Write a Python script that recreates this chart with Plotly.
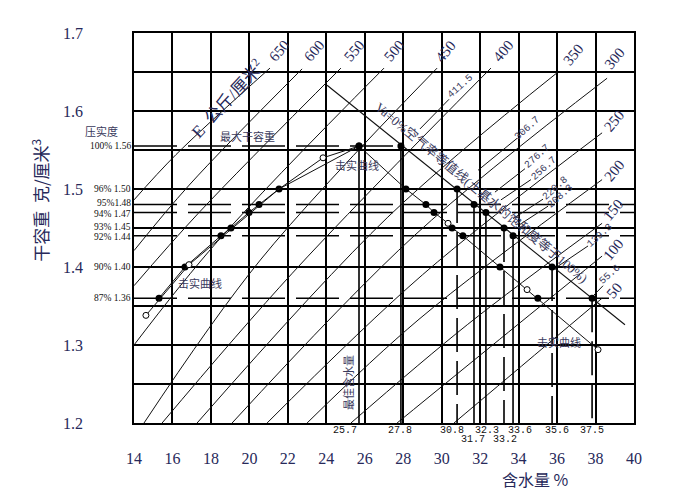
import plotly.graph_objects as go

# ---------------- data ----------------
x_ticks = [14, 16, 18, 20, 22, 24, 26, 28, 30, 32, 34, 36, 38, 40]
y_ticks = [1.20, 1.25, 1.30, 1.35, 1.40, 1.45, 1.50, 1.55, 1.60, 1.65, 1.70]
y_ticktext = ["1.2", " ", "1.3", " ", "1.4", " ", "1.5", " ", "1.6", " ", "1.7"]

# compaction levels (dashed horizontals)
levels = [1.555, 1.50, 1.48, 1.47, 1.45, 1.44, 1.40, 1.36]
level_labels = ["100% 1.56", "96% 1.50", "95%1.48", "94% 1.47",
                "93% 1.45", "92% 1.44", "90% 1.40", "87% 1.36"]
level_label_y = [1.555, 1.50, 1.4815, 1.4685, 1.4515, 1.4385, 1.40, 1.36]
level_end = [27.88, 40, 40, 40, 40, 40, 40, 40]

# E isolines (kg/cm2): start, middle, end points
e_values = ["650", "600", "550", "500", "450", "400", "350",
            "300", "250", "200", "150", "100", "50"]
e_x = [[14.0, 16.18, 21.07], [14.0, 16.87, 22.74], [14.0, 17.35, 24.76],
       [14.0, 18.35, 27.0], [14.52, 20.57, 29.76], [15.46, 22.23, 32.56],
       [17.28, 27.20, 36.0], [19.10, 28.61, 38.60], [20.92, 29.0, 38.34],
       [23.0, 28.82, 38.34], [25.28, 31.33, 38.34], [27.68, 33.0, 38.34],
       [30.64, 34.49, 38.34]]
e_y = [[1.486, 1.544, 1.655], [1.421, 1.505, 1.654], [1.376, 1.469, 1.655],
       [1.300, 1.433, 1.655], [1.200, 1.409, 1.655], [1.200, 1.392, 1.655],
       [1.200, 1.464, 1.649], [1.200, 1.441, 1.642], [1.200, 1.390, 1.572],
       [1.200, 1.333, 1.512], [1.200, 1.326, 1.456], [1.200, 1.307, 1.414],
       [1.200, 1.280, 1.360]]
e_label_x = [21.54, 23.36, 25.44, 27.52, 30.22, 33.19, 36.83,
             39.01, 38.96, 39.01, 38.91, 38.91, 39.01]
e_label_y = [1.677, 1.677, 1.677, 1.677, 1.677, 1.677, 1.672,
             1.668, 1.587, 1.524, 1.473, 1.422, 1.370]

# short partial E isolines through the saturation points
seg_text = ["411.5", "306.7", "276.7", "256.7", "220.8", "208.3", "139.3", "55.6"]
seg_x0 = [28.87, 31.89, 32.77, 33.08, 33.71, 33.97, 36.05, 37.76]
seg_y0 = [1.577, 1.524, 1.496, 1.486, 1.462, 1.453, 1.401, 1.360]
seg_x1 = [30.38, 33.92, 34.33, 34.64, 35.27, 35.53, 37.61, 38.39]
seg_y1 = [1.615, 1.565, 1.526, 1.512, 1.487, 1.478, 1.427, 1.376]
seg_lx = [30.95, 34.44, 34.96, 35.32, 35.89, 36.15, 38.23, 38.75]
seg_ly = [1.632, 1.578, 1.542, 1.526, 1.501, 1.491, 1.440, 1.390]

# saturation line (Va = 0 %)
sat_line_x = [24.04, 39.53]
sat_line_y = [1.633, 1.326]
sat_w = [27.88, 30.80, 31.68, 32.30, 33.24, 33.71, 35.74, 37.82]
sat_d = [1.555, 1.50, 1.48, 1.47, 1.45, 1.44, 1.40, 1.36]

# compaction curves
dry_fill_w = [15.30, 16.65, 18.52, 19.04, 19.98, 20.50, 21.54, 25.70]
dry_fill_d = [1.36, 1.40, 1.44, 1.45, 1.47, 1.48, 1.50, 1.555]
dry_open_w = [14.62, 16.86, 21.54, 23.83, 25.70]
dry_open_d = [1.338, 1.403, 1.50, 1.540, 1.555]
dry_open_mark = [True, True, False, True, False]
wet_w = [25.70, 28.14, 29.18, 29.60, 30.33, 30.54, 31.10, 33.03, 34.44, 35.00, 38.13]
wet_d = [1.555, 1.50, 1.48, 1.47, 1.456, 1.45, 1.44, 1.40, 1.371, 1.36, 1.294]
wet_open = [False, False, False, False, True, False, False, False, True, False, True]

# vertical drop lines to the moisture axis
vert_w = [25.70, 27.88, 30.80, 31.68, 32.30, 33.24, 33.71, 35.74, 37.82]
vert_top = [1.555, 1.555, 1.50, 1.48, 1.47, 1.45, 1.44, 1.40, 1.36]
vert_dashed = [False, False, True, False, False, True, False, True, True]
moist_text = ["25.7", "27.8", "30.8", "31.7", "32.3", "33.2", "33.6", "35.6", "37.5"]
moist_lx = [24.97, 27.83, 30.52, 31.62, 32.36, 33.29, 34.07, 36.0, 37.82]
moist_row = [0, 0, 0, 1, 0, 1, 0, 0, 0]

# ---------------- figure ----------------
NAVY = "#27295a"
TXT = "#3a3a5c"
SERIF = "Liberation Serif, Noto Sans CJK SC"
CJK = "Noto Sans CJK SC"

fig = go.Figure()

for lv, xe in zip(levels, level_end):
    fig.add_trace(go.Scatter(x=[14, xe], y=[lv, lv], mode="lines",
                             line=dict(color="black", width=1.5, dash="43px,11px"),
                             hoverinfo="skip", showlegend=False))

for xs, ys in zip(e_x, e_y):
    fig.add_trace(go.Scatter(x=xs, y=ys, mode="lines",
                             line=dict(color="#111111", width=1, shape="spline"),
                             hoverinfo="skip", showlegend=False))

for a, b, c, d in zip(seg_x0, seg_y0, seg_x1, seg_y1):
    fig.add_trace(go.Scatter(x=[a, c], y=[b, d], mode="lines",
                             line=dict(color="#111111", width=1),
                             hoverinfo="skip", showlegend=False))

for w, top, dsh in zip(vert_w, vert_top, vert_dashed):
    fig.add_trace(go.Scatter(x=[w, w], y=[top, 1.2], mode="lines",
                             line=dict(color="black", width=1.6,
                                       dash="34px,9px" if dsh else "solid"),
                             hoverinfo="skip", showlegend=False))

fig.add_trace(go.Scatter(x=sat_line_x, y=sat_line_y, mode="lines",
                         line=dict(color="#111111", width=1.1),
                         hoverinfo="skip", showlegend=False))
fig.add_trace(go.Scatter(x=sat_w, y=sat_d, mode="markers",
                         marker=dict(color="black", size=7),
                         hoverinfo="skip", showlegend=False))

fig.add_trace(go.Scatter(x=dry_fill_w, y=dry_fill_d, mode="lines+markers",
                         line=dict(color="#111111", width=1),
                         marker=dict(color="black", size=7),
                         hoverinfo="skip", showlegend=False))
fig.add_trace(go.Scatter(x=dry_open_w, y=dry_open_d, mode="lines",
                         line=dict(color="#111111", width=1),
                         hoverinfo="skip", showlegend=False))
fig.add_trace(go.Scatter(x=[w for w, m in zip(dry_open_w, dry_open_mark) if m],
                         y=[d for d, m in zip(dry_open_d, dry_open_mark) if m],
                         mode="markers",
                         marker=dict(color="white", size=6, line=dict(color="black", width=1)),
                         hoverinfo="skip", showlegend=False))
fig.add_trace(go.Scatter(x=wet_w, y=wet_d, mode="lines",
                         line=dict(color="#111111", width=1),
                         hoverinfo="skip", showlegend=False))
fig.add_trace(go.Scatter(x=[w for w, o in zip(wet_w, wet_open) if not o],
                         y=[d for d, o in zip(wet_d, wet_open) if not o],
                         mode="markers", marker=dict(color="black", size=7),
                         hoverinfo="skip", showlegend=False))
fig.add_trace(go.Scatter(x=[w for w, o in zip(wet_w, wet_open) if o],
                         y=[d for d, o in zip(wet_d, wet_open) if o],
                         mode="markers",
                         marker=dict(color="white", size=6, line=dict(color="black", width=1)),
                         hoverinfo="skip", showlegend=False))

ann = []
for t, x, y in zip(e_values, e_label_x, e_label_y):
    ann.append(dict(x=x, y=y, xref="x", yref="y", text=t, showarrow=False,
                    xanchor="center", yanchor="middle",
                    textangle=-50, font=dict(family=SERIF, size=15, color=NAVY)))
for t, x, y in zip(seg_text, seg_lx, seg_ly):
    ann.append(dict(x=x, y=y, xref="x", yref="y", text=t, showarrow=False,
                    xanchor="center", yanchor="middle",
                    textangle=-42, font=dict(family="Liberation Mono", size=10, color=TXT)))
for t, y in zip(level_labels, level_label_y):
    ann.append(dict(x=-0.003, y=y, xref="paper", yref="y", text=t, showarrow=False,
                    xanchor="right", yanchor="middle",
                    font=dict(family=SERIF, size=9.5, color="#111111")))
ann.append(dict(x=-0.066, y=1.5744, xref="paper", yref="y", text="压实度", showarrow=False,
                xanchor="center", yanchor="middle",
                font=dict(family=CJK, size=11, color=TXT)))
for t, x, r in zip(moist_text, moist_lx, moist_row):
    ann.append(dict(x=x, y=-0.0195 - 0.024 * r, xref="x", yref="paper", text=t,
                    xanchor="center", yanchor="middle", showarrow=False,
                    font=dict(family="Liberation Mono", size=10, color="#111111")))
ann.append(dict(x=19.88, y=1.568, xref="x", yref="y", text="最大干容重", showarrow=False,
                xanchor="center", yanchor="middle",
                font=dict(family=CJK, size=11, color=TXT)))
ann.append(dict(x=25.60, y=1.5308, xref="x", yref="y", text="击实曲线", showarrow=False,
                xanchor="center", yanchor="middle",
                font=dict(family=CJK, size=11, color=TXT)))
ann.append(dict(x=17.43, y=1.3795, xref="x", yref="y", text="击实曲线", showarrow=False,
                xanchor="center", yanchor="middle",
                font=dict(family=CJK, size=11, color=TXT)))
ann.append(dict(x=36.10, y=1.3038, xref="x", yref="y", text="击实曲线", showarrow=False,
                xanchor="center", yanchor="middle",
                font=dict(family=CJK, size=11, color=TXT)))
ann.append(dict(x=25.13, y=1.2513, xref="x", yref="y", text="最佳含水量", showarrow=False,
                xanchor="center", yanchor="middle",
                textangle=-90, font=dict(family=CJK, size=11, color=TXT)))
ann.append(dict(x=18.85, y=1.6167, xref="x", yref="y", text="E  公斤/厘米<sup>2</sup>",
                showarrow=False, textangle=-47, xanchor="center", yanchor="middle",
                font=dict(family=SERIF, size=17, color=NAVY)))
ann.append(dict(x=32.04, y=1.4949, xref="x", yref="y",
                text="Va=0%空气率等值线(土基水的饱和度等于100%)",
                showarrow=False, textangle=40, xanchor="center", yanchor="middle",
                font=dict(family=SERIF, size=13, color=TXT)))
ann.append(dict(x=-0.188, y=0.57, xref="paper", yref="paper",
                text="干容重  克/厘米<sup>3</sup>", showarrow=False, textangle=-90,
                xanchor="center", yanchor="middle",
                font=dict(family=CJK, size=17, color=NAVY)))
ann.append(dict(x=0.802, y=-0.144, xref="paper", yref="paper", text="含水量 %",
                xanchor="center", yanchor="middle",
                showarrow=False, font=dict(family=CJK, size=16, color=NAVY)))

fig.update_layout(
    width=675, height=491,
    margin=dict(l=126, r=49, t=25, b=76),
    paper_bgcolor="white", plot_bgcolor="white",
    showlegend=False,
    annotations=ann,
    xaxis=dict(range=[14, 40], tickvals=x_ticks, showgrid=True, gridcolor="black",
               gridwidth=1.5, zeroline=False, showline=True, mirror=True,
               linecolor="black", linewidth=1.5, ticks="",
               ticklabelstandoff=20,
               tickfont=dict(family="Liberation Serif", size=16, color=NAVY)),
    yaxis=dict(range=[1.2, 1.7], tickvals=y_ticks, ticktext=y_ticktext, showgrid=True,
               gridcolor="black", gridwidth=1.5, zeroline=False, showline=True,
               mirror=True, linecolor="black", linewidth=1.5, ticks="",
               ticklabelstandoff=46,
               tickfont=dict(family="Liberation Serif", size=16, color=NAVY)),
)

fig.write_html("out.html")
